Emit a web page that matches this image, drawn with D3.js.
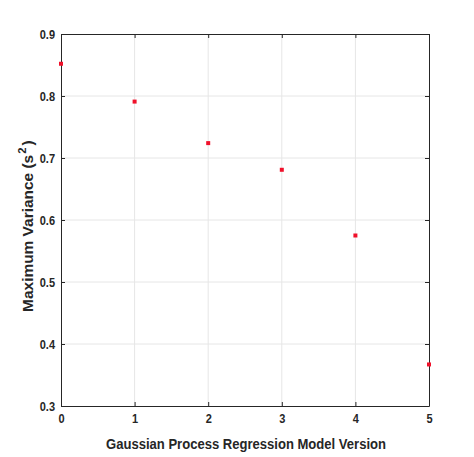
<!DOCTYPE html>
<html>
<head>
<meta charset="utf-8">
<script src="https://cdn.jsdelivr.net/npm/d3@7"></script>
<style>
  body { margin: 0; background: #fff; }
  text { font-family: "Liberation Sans", Arial, sans-serif; font-weight: bold; }
</style>
</head>
<body>
<svg id="chart" width="474" height="457"></svg>
<script>
// valeurs
var versions = [0, 1, 2, 3, 4, 5];
var variances = [0.852, 0.791, 0.724, 0.681, 0.575, 0.367];
var xTicks = [0, 1, 2, 3, 4, 5];
var yTicks = [0.3, 0.4, 0.5, 0.6, 0.7, 0.8, 0.9];

var marge = {gauche: 61, haut: 34, droite: 45, bas: 51};
var largeur = 474, hauteur = 457;

var svg = d3.select("#chart");

var x = d3.scaleLinear().domain([0, 5]).range([marge.gauche, largeur - marge.droite]);
var y = d3.scaleLinear().domain([0.3, 0.9]).range([hauteur - marge.bas, marge.haut]);

// texte un peu resserré comme sur la figure d'origine
function resserrer(sel, k) {
    sel.each(function() {
        var l = this.getComputedTextLength();
        d3.select(this).attr("textLength", l * k).attr("lengthAdjust", "spacingAndGlyphs");
    });
}

//-------------------grille----------------------------------------
svg.append("g").selectAll("line.gx")
    .data(xTicks.slice(1, -1))
    .enter().append("line")
    .attr("x1", d => x(d)).attr("x2", d => x(d))
    .attr("y1", y(0.3)).attr("y2", y(0.9))
    .attr("stroke", "#e6e6e6").attr("stroke-width", 1);

svg.append("g").selectAll("line.gy")
    .data(yTicks.slice(1, -1))
    .enter().append("line")
    .attr("x1", x(0)).attr("x2", x(5))
    .attr("y1", d => y(d)).attr("y2", d => y(d))
    .attr("stroke", "#e6e6e6").attr("stroke-width", 1);

//-------------------axes----------------------------------------
var axeBas = d3.axisBottom(x).tickValues(xTicks).tickFormat(d3.format("d")).tickSizeInner(-4).tickSizeOuter(0).tickPadding(8);
var axeGauche = d3.axisLeft(y).tickValues(yTicks).tickFormat(d3.format(".1f")).tickSizeInner(-4).tickSizeOuter(0).tickPadding(6);
var axeHaut = d3.axisTop(x).tickValues(xTicks).tickFormat("").tickSizeInner(-4).tickSizeOuter(0);
var axeDroite = d3.axisRight(y).tickValues(yTicks).tickFormat("").tickSizeInner(-4).tickSizeOuter(0);

function styler(g) {
    g.select(".domain").attr("stroke", "#262626");
    g.selectAll(".tick line").attr("stroke", "#262626");
    g.selectAll(".tick text").attr("fill", "#262626").style("font-size", "12.5px").call(resserrer, 0.88);
}

svg.append("g").attr("transform", "translate(0," + y(0.3) + ")").call(axeBas).call(styler);
svg.append("g").attr("transform", "translate(" + x(0) + ",0)").call(axeGauche).call(styler);
svg.append("g").attr("transform", "translate(0," + y(0.9) + ")").call(axeHaut).call(styler);
svg.append("g").attr("transform", "translate(" + x(5) + ",0)").call(axeDroite).call(styler);

//-------------------points----------------------------------------
svg.append("g").selectAll("rect")
    .data(versions)
    .enter().append("rect")
    .attr("x", (d) => x(d) - 2)
    .attr("y", (d, i) => y(variances[i]) - 2)
    .attr("width", 4).attr("height", 4)
    .attr("fill", "#f0102a");

//-------------------titres----------------------------------------
svg.append("text")
    .attr("x", 246)
    .attr("y", 449)
    .attr("text-anchor", "middle")
    .attr("fill", "#262626")
    .style("font-size", "14.5px")
    .text("Gaussian Process Regression Model Version")
    .call(resserrer, 0.9);

var titreY = svg.append("text")
    .attr("text-anchor", "middle")
    .attr("fill", "#262626")
    .style("font-size", "14.5px");
titreY.append("tspan").text("Maximum Variance (s");
titreY.append("tspan").attr("dy", -7).attr("dx", 1).style("font-size", "10.5px").text("2");
titreY.append("tspan").attr("dy", 7).attr("dx", 2).text(")");
// longueur visée : environ 172 px
var bb = titreY.node().getBBox();
var kx = 172 / bb.width;
titreY.attr("transform", "translate(33,226) rotate(-90) scale(" + kx + ",1) translate(" + (-(bb.x + bb.width / 2)) + ",0)");
</script>
</body>
</html>
